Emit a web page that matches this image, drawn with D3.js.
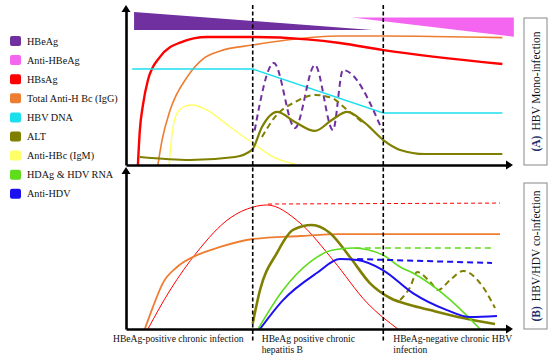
<!DOCTYPE html>
<html>
<head>
<meta charset="utf-8">
<script src="https://cdn.jsdelivr.net/npm/d3@7"></script>
<style>
  body { margin: 0; background: #fff; }
  svg { display: block; font-family: "Liberation Serif", "Times New Roman", serif; }
</style>
</head>
<body>
<svg id="chart" width="550" height="358"></svg>
<script>
// legend
var legendLabels = ["HBeAg", "Anti-HBeAg", "HBsAg", "Total Anti-H Bc (IgG)", "HBV DNA", "ALT", "Anti-HBc (IgM)", "HDAg & HDV RNA", "Anti-HDV"];
var legendKeys = ["hbeag", "antiHbe", "hbsag", "antiHbc", "hbvDna", "alt", "igm", "hdv", "antiHdv"];

// phases (time axis 0..100)
var phaseBounds = [33, 67];
var phaseLabels = [["HBeAg-positive chronic infection"], ["HBeAg positive chronic", "hepatitis B"], ["HBeAg-negative chronic HBV", "infection"]];
var panelTags = ["(A)", "(B)"];
var panelTitles = ["HBV Mono-infection", "HBV/HDV co-infection"];

// panel A : [time, level]
var aHbeAgWedge = [[2.1, 97.5], [64.1, 86], [2.1, 86]];
var aAntiHbeWedge = [[58.9, 94], [101, 94], [101, 81.7]];
var aHbsAg = [[3.1, 0], [3.6, 22], [4.4, 38], [5.7, 54], [8.9, 69], [14.1, 78], [21.1, 81.5], [33, 81.5], [47.1, 80], [55.7, 77.7], [67, 73.2], [98, 64.3]];
var aAntiHbc = [[8.3, 0], [9.4, 16], [11.5, 35], [15.9, 56], [20, 67.5], [24.5, 72.6], [33, 76.4], [41.9, 79.6], [55.7, 82.2], [67, 82.2], [98, 81.1]];
var aHbvDna = [[1.6, 61.1], [33, 61.1], [67, 33.1], [98, 33.1]];
var aIgm = [[11.2, 0], [12, 20], [13.3, 33], [15.5, 37.5], [17.2, 38.2], [21.1, 35], [27.1, 24.2], [33, 14], [38.3, 5.1], [44, 0.5]];
var aAlt = [[3.6, 5.1], [16.7, 3.2], [28.4, 5.1], [32.8, 9.6], [35.4, 24.2], [39.3, 33.8], [44, 27.4], [49.2, 21.7], [53.6, 28.7], [57.6, 33.8], [62.2, 26.8], [67, 15.9], [71.4, 9.6], [77.9, 7], [98, 7]];
var aAltDashed = [[35.4, 17.8], [38.8, 30.6], [44, 40.1], [49.2, 44.6], [53.6, 42.7], [57, 36.3], [61.5, 27.4]];
var aHbeAgDashed = [[33.5, 22], [38.5, 65], [44, 23.6], [49.2, 63.7], [53.9, 22.3], [56.5, 60.5], [66.7, 22.3]];

// panel B : [time, level]
var bHbsAg = [[5.7, 0], [11.5, 24.5], [18.5, 48.4], [27.1, 69.8], [33.1, 76.7], [36.7, 78], [45.3, 66.7], [53.9, 43.4], [62.8, 16.4], [70.8, 0]];
var bHbsAgDashed = [[37, 78.6], [97.4, 79.2]];
var bAntiHbc = [[4.9, 0], [7, 13.8], [9.6, 28.9], [13.3, 39], [18.5, 46.5], [24.5, 51.6], [33.1, 56.6], [45.3, 58.5], [55.7, 59.7], [97.4, 59.7]];
var bAlt = [[33, 3.5], [34.9, 24.5], [39.3, 47.8], [43.5, 62.3], [48.4, 65.4], [53.1, 60.4], [58.3, 45.3], [63.5, 28.9], [68.8, 19.5], [74, 15.1], [79.2, 11.9], [87.8, 6.9], [96.1, 3.1]];
var bAltDashed = [[71.4, 18.2], [74, 26.4], [75.8, 35.8], [79.2, 29.6], [81.3, 24.5], [84.4, 30.8], [87.8, 36.5], [92.2, 28.9], [96.1, 13.2]];
var bHdv = [[34.4, 0], [40.9, 24.5], [47.9, 42.1], [53.9, 49.7], [59.1, 50.9], [66.9, 46.5], [71.4, 39], [74.7, 35.2], [83.6, 20.1], [92.2, 0]];
var bHdvDashed = [[59.6, 50.9], [95.8, 50.9]];
var bAntiHdv = [[34.9, 0], [40.9, 18.2], [49.7, 35.2], [55.7, 44], [60.2, 43.4], [66.9, 37.1], [74.7, 22.6], [83.6, 11.9], [89.6, 7.5], [96.6, 8.2]];
var bAntiHdvDashed = [[60.2, 44], [95.3, 41.5]];

var colors = {
  hbeag: "#7030a0", antiHbe: "#f466f0", hbsag: "#ff0000", antiHbc: "#ed7d31",
  hbvDna: "#1cdfee", alt: "#7f7f00", igm: "#ffff66", hdv: "#5fdc1c", antiHdv: "#1c10f0"
};

var svg = d3.select("#chart");

var x = d3.scaleLinear().domain([0, 100]).range([126, 510]);
var yA = d3.scaleLinear().domain([0, 100]).range([165, 8]);
var yB = d3.scaleLinear().domain([0, 100]).range([329, 170]);

// legend
var legend = svg.append("g").selectAll("g")
  .data(legendLabels)
  .enter().append("g")
    .attr("transform", function(d, i) { return "translate(0," + (41 + i * 19.1) + ")"; });

legend.append("rect")
  .attr("x", 10).attr("y", -5)
  .attr("width", 11).attr("height", 10)
  .attr("rx", 2)
  .attr("fill", function(d, i) { return colors[legendKeys[i]]; });

legend.append("text")
  .attr("x", 27).attr("y", 3.5)
  .attr("font-size", "10.2px")
  .attr("fill", "#111")
  .text(function(d) { return d; });

function area(data, y, fill) {
  svg.append("path")
    .attr("d", d3.line().x(function(d) { return x(d[0]); }).y(function(d) { return y(d[1]); })(data) + "Z")
    .attr("fill", fill);
}

function curve(data, y, color, width, dash, kind) {
  var line = d3.line()
    .x(function(d) { return x(d[0]); })
    .y(function(d) { return y(d[1]); })
    .curve(kind || d3.curveMonotoneX);
  svg.append("path")
    .attr("d", line(data))
    .attr("fill", "none")
    .attr("stroke", color)
    .attr("stroke-width", width)
    .attr("stroke-dasharray", dash || null);
}

// panel A
area(aHbeAgWedge, yA, colors.hbeag);
area(aAntiHbeWedge, yA, colors.antiHbe);
curve(aIgm, yA, colors.igm, 1.4);
curve(aAntiHbc, yA, colors.antiHbc, 1.6);
curve(aHbsAg, yA, colors.hbsag, 2.4);
curve(aHbvDna, yA, colors.hbvDna, 1.6, null, d3.curveLinear);
curve(aHbeAgDashed, yA, colors.hbeag, 2, "6,4");
curve(aAltDashed, yA, colors.alt, 2, "6,4");
curve(aAlt, yA, colors.alt, 2.2);

// panel B
curve(bHbsAg, yB, colors.hbsag, 1);
curve(bHbsAgDashed, yB, colors.hbsag, 1, "4,3", d3.curveLinear);
curve(bAntiHbc, yB, colors.antiHbc, 1.8);
curve(bAlt, yB, colors.alt, 2.6);
curve(bAltDashed, yB, colors.alt, 2, "6,4");
curve(bHdv, yB, colors.hdv, 1.6);
curve(bHdvDashed, yB, colors.hdv, 1.6, "6,4", d3.curveLinear);
curve(bAntiHdv, yB, colors.antiHdv, 2);
curve(bAntiHdvDashed, yB, colors.antiHdv, 2, "6,4", d3.curveLinear);

// axes
[yA, yB].forEach(function(y) {
  svg.append("g")
    .attr("transform", "translate(" + x.range()[0] + ",0)")
    .call(d3.axisLeft(y).tickValues([]).tickSizeOuter(0))
    .select(".domain").attr("stroke", "#000").attr("stroke-width", 2.6);
  svg.append("g")
    .attr("transform", "translate(0," + y.range()[0] + ")")
    .call(d3.axisBottom(x).tickValues([]).tickSizeOuter(0))
    .select(".domain").attr("stroke", "#000").attr("stroke-width", 2.6);

  var x0 = x.range()[0], x1 = x.range()[1], y0 = y.range()[0], y1 = y.range()[1];
  svg.append("path")
    .attr("d", "M" + (x0 - 4.5) + "," + (y1 + 4) + "L" + x0 + "," + (y1 - 3) + "L" + (x0 + 4.5) + "," + (y1 + 4) + "Z")
    .attr("fill", "#000");
  svg.append("path")
    .attr("d", "M" + (x1 - 4) + "," + (y0 - 4.5) + "L" + (x1 + 3) + "," + y0 + "L" + (x1 - 4) + "," + (y0 + 4.5) + "Z")
    .attr("fill", "#000");
});

// phase dividers
svg.selectAll(".phase")
  .data(phaseBounds)
  .enter().append("line")
    .attr("class", "phase")
    .attr("x1", function(d) { return x(d); })
    .attr("x2", function(d) { return x(d); })
    .attr("y1", 5).attr("y2", 342)
    .attr("stroke", "#000")
    .attr("stroke-width", 1.6)
    .attr("stroke-dasharray", "4,2.5");

// phase labels
var labelX = [x(0) - 13, x(phaseBounds[0]) + 9, x(phaseBounds[1]) + 10];
phaseLabels.forEach(function(lines, i) {
  var t = svg.append("text")
    .attr("font-size", "9.6px")
    .attr("fill", "#111");
  lines.forEach(function(s, j) {
    t.append("tspan").attr("x", labelX[i]).attr("y", 342 + j * 11).text(s);
  });
});

// panel boxes on the right
[yA, yB].forEach(function(y, i) {
  var top = i == 0 ? 18 : 183;
  var bottom = y.range()[0];
  svg.append("rect")
    .attr("x", 524).attr("y", top)
    .attr("width", 23).attr("height", bottom - top)
    .attr("fill", "none")
    .attr("stroke", "#888")
    .attr("stroke-width", 1);
  var t = svg.append("text")
    .attr("transform", "translate(536," + ((top + bottom) / 2) + ") rotate(-90)")
    .attr("text-anchor", "middle")
    .attr("dy", "0.35em")
    .attr("font-size", "11.5px");
  t.append("tspan").attr("font-weight", "bold").attr("fill", "#1f2f6a").text(panelTags[i]);
  t.append("tspan").attr("dx", 5).attr("fill", "#111").text(panelTitles[i]);
});
</script>
</body>
</html>
